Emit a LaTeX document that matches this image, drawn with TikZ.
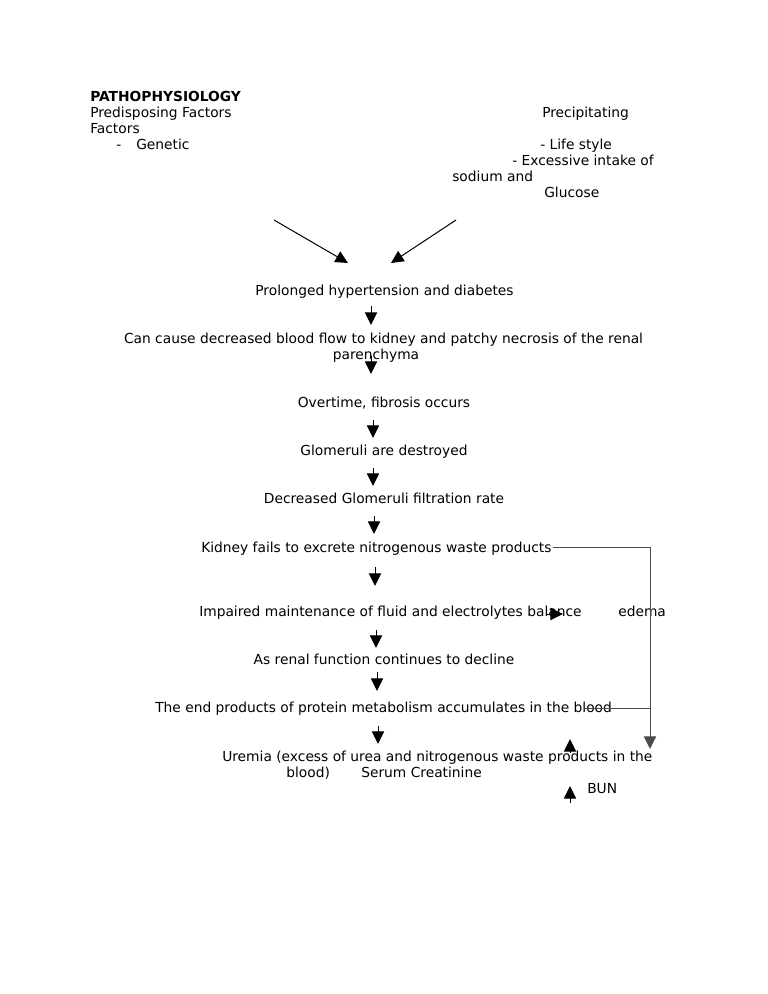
\documentclass[tikz,border=0pt]{standalone}
\usepackage{fontspec}
\setmainfont{DejaVu Sans}
\usetikzlibrary{arrows.meta}
\begin{document}
\begin{tikzpicture}[x=0.796875pt,y=-0.796875pt,
  txt/.style={inner sep=0pt,font=\fontsize{11}{12.75}\selectfont},
  lt/.style={txt,anchor=base west},
  ct/.style={txt,anchor=base},
  conn/.style={draw=black!70,line width=0.8pt},
  arr/.style={draw=black,line width=0.8pt,-{Triangle[width=9.6pt,length=10pt]}},
]
\useasboundingbox[fill=white] (0,0) rectangle (768,994);
% header
\node[lt,font=\fontsize{11}{12.75}\selectfont\bfseries] (title) at (90,102) {PATHOPHYSIOLOGY};
\node[lt] (pred) at (90,118) {Predisposing Factors};
\node[lt] (fac) at (90,134) {Factors};
\node[lt] (dash1) at (116,150) {-};
\node[lt] (gen) at (136,150) {Genetic};
\node[lt] (prec) at (542,118) {Precipitating};
\node[lt] (life) at (540,150) {- Life style};
\node[lt] (exc) at (512,166) {- Excessive intake of};
\node[lt] (sod) at (452,182) {sodium and};
\node[lt] (glu) at (544,198) {Glucose};
% converging arrows
\coordinate (l1) at (274,220); \coordinate (l2) at (348,263);
\coordinate (r1) at (456,220); \coordinate (r2) at (391,263);
\draw[arr] (l1) -- (l2);
\draw[arr] (r1) -- (r2);
% main chain
\node[ct] (n1) at (384.5,295) {Prolonged hypertension and diabetes};
\node[ct] (n2) at (383.5,343) {Can cause decreased blood flow to kidney and patchy necrosis of the renal};
\node[ct] (n2b) at (376,359) {parenchyma};
\node[ct] (n3) at (384,407) {Overtime, fibrosis occurs};
\node[ct] (n4) at (384,455) {Glomeruli are destroyed};
\node[ct] (n5) at (384,503) {Decreased Glomeruli filtration rate};
\node[lt] (n6) at (201,552) {Kidney fails to excrete nitrogenous waste products};
\node[lt] (n7) at (199,616) {Impaired maintenance of fluid and electrolytes balance};
\node[lt] (ede) at (618,616) {edema};
\node[ct] (n8) at (384,664) {As renal function continues to decline};
\node[lt] (n9) at (155,712) {The end products of protein metabolism accumulates in the blood};
\node[lt] (n10) at (222,761) {Uremia (excess of urea and nitrogenous waste products in the};
\node[lt] (bl) at (286,777) {blood)};
\node[lt] (ser) at (361,777) {Serum Creatinine};
\node[lt] (bun) at (587,793) {BUN};
% down arrows
\foreach \i/\x/\a/\b in {1/371/306/325,2/371/356/374,3/373/420/438,4/373/468/486,5/374/516/534,6/375/567/586,7/376/630/648,8/377/672/691,9/378/726/744}{
  \coordinate (d\i a) at (\x,\a); \coordinate (d\i b) at (\x,\b);
  \draw[arr] (d\i a) -- (d\i b);
}
% small right arrow near balance
\coordinate (ra) at (546,614); \coordinate (rb) at (563,614);
\draw[arr] (ra) -- (rb);
% right-hand connector
\coordinate (k1) at (553,547); \coordinate (k2) at (650,547); \coordinate (k3) at (650,749);
\draw[conn] (k1) -- (k2);
\draw[conn,-{Triangle[width=9.6pt,length=10pt]}] (k2) -- (k3);
\coordinate (b1) at (585,708); \coordinate (b2) at (650,708);
\draw[conn] (b1) -- (b2);
% up arrows
\coordinate (u1a) at (570,753); \coordinate (u1b) at (570,739);
\draw[arr] (u1a) -- (u1b);
\coordinate (u2a) at (570,803); \coordinate (u2b) at (570,786);
\draw[arr] (u2a) -- (u2b);
\end{tikzpicture}
\end{document}
